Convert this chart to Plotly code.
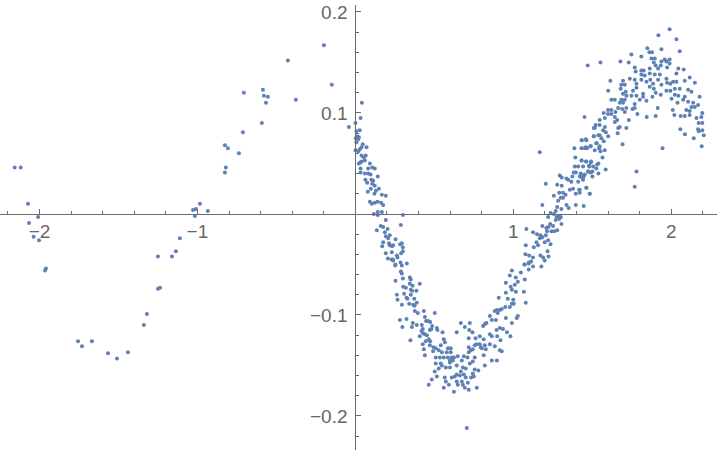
import plotly.graph_objects as go

far_left = [(-2.157,.046),(-2.119,.046),(-2.073,.010),(-2.066,-.009),(-2.009,-.003),(-2.037,-.0225),(-2.003,-.026),
(-1.965,-.056),(-1.959,-.054),(-1.756,-.126),(-1.731,-.131),(-1.668,-.126),(-1.566,-.138),(-1.509,-.143),(-1.440,-.137),
(-1.339,-.110),(-1.320,-.099),(-1.250,-.074),(-1.237,-.073),(-1.250,-.042),(-1.161,-.042),(-1.136,-.037),(-1.111,-.024),
(-1.028,.004),(-1.009,.005),(-.984,.010),(-1.016,-.002),(-.934,.003),(-.826,.041),(-.820,.046),(-.826,.068),(-.807,.065),
(-.737,.060),(-.712,.081),(-.706,.120),(-.592,.090),(-.585,.123),(-.579,.117),(-.554,.116),(-.566,.110),(-.427,.152),
(-.377,.113),(-.199,.167),(-.149,.128),(-.041,.086)]

descent = [(.041,.110),(.033,.095),(.001,.090),(.028,.083),(.007,.082),(.012,.077),(.022,.076),(.003,.075),(.018,.074),
(.007,.071),(.047,.069),(.071,.066),(.039,.066),(.028,.064),(.001,.063),(.018,.062),(.039,.058),(.066,.058),(.054,.056),
(.039,.052),(.060,.053),(.033,.051),(.022,.050),(.092,.050),(.107,.046),(.123,.045),(.081,.045),(.033,.045),(.033,.041),
(.060,.040),(.081,.040),(.096,.039),(.142,.037),(.064,.034),(.102,.034),(.113,.033),(.075,.031),(.107,.030),(.123,.028),
(.098,.025),(.079,.022),(.149,.025),(.130,.023),(.121,.020),(.168,.019),(.193,.018),(.092,.012),(.104,.010),(.140,.012),
(.163,.011),(.176,.009),(.123,.011),(.117,.000),(.142,.002),(.168,.002),(.142,-.001),(.301,-.001),(.193,-.006),(.288,-.011),
(.161,-.012),(.176,-.013),(.136,-.016),(.204,-.015),(.187,-.018),(.218,-.021),(.193,-.022),(.208,-.024),(.255,-.025),
(.176,-.028),(.213,-.029),(.170,-.032),(.294,-.029),(.284,-.030),(.218,-.031),(.239,-.031),(.233,-.032),(.301,-.033),
(.301,-.037),(.231,-.038),(.193,-.039),(.290,-.039),(.263,-.041),(.206,-.044),(.229,-.045),(.239,-.045),(.267,-.043)]

trough = [(.239,-.046),(.254,-.050),(.252,-.051),(.286,-.048),(.294,-.051),(.326,-.049),(.288,-.057),(.294,-.059),(.254,-.066),
(.301,-.064),(.345,-.063),(.351,-.065),(.408,-.069),(.345,-.069),(.362,-.071),(.303,-.072),(.320,-.073),(.351,-.075),
(.360,-.076),(.387,-.076),(.263,-.080),(.309,-.079),(.351,-.080),(.324,-.083),(.330,-.084),(.373,-.084),(.267,-.085),
(.389,-.088),(.295,-.090),(.341,-.089),(.366,-.090),(.375,-.091),(.377,-.096),(.396,-.098),(.434,-.096),(.503,-.098),
(.440,-.102),(.448,-.106),(.282,-.105),(.324,-.104),(.364,-.108),(.461,-.106),(.474,-.107),(.389,-.110),(.358,-.112),
(.298,-.112),(.421,-.110),(.427,-.114),(.486,-.111),(.482,-.114),(.516,-.113),(.472,-.115),(.520,-.115),(.552,-.117),
(.642,-.117),(.668,-.108),(.725,-.108),(.693,-.112),(.721,-.115),(.742,-.117),(.419,-.116),(.429,-.118),(.408,-.121),
(.440,-.119),(.453,-.120),(.718,-.123),(.788,-.121),(.761,-.123),(.813,-.124),(.465,-.124),(.349,-.125),(.560,-.124),
(.446,-.126),(.474,-.126),(.567,-.127),(.427,-.129),(.472,-.130),(.541,-.130),(.495,-.132),(.509,-.133),(.434,-.134),
(.528,-.135),(.492,-.136),(.548,-.137),(.440,-.140),(.586,-.133),(.604,-.133),(.579,-.137),(.604,-.137),(.756,-.130),
(.769,-.129),(.788,-.129),(.718,-.132),(.731,-.135),(.794,-.132),(.820,-.130),(.801,-.133),(.826,-.134),(.744,-.134),
(.718,-.137),(.813,-.140),(.509,-.142),(.535,-.142),(.560,-.142),(.586,-.142),(.611,-.142),(.624,-.142),(.648,-.141),
(.687,-.141),(.710,-.142),(.756,-.142),(.599,-.145),(.618,-.145),(.509,-.148),(.541,-.148),(.599,-.147),(.674,-.145),
(.725,-.148),(.744,-.146),(.548,-.150),(.573,-.152),(.528,-.153),(.599,-.152),(.642,-.150),(.681,-.152),(.699,-.153),
(.756,-.154),(.779,-.155),(.820,-.150),(.503,-.156),(.668,-.156),(.744,-.158),(.642,-.159),(.687,-.159),(.750,-.161),
(.516,-.161),(.611,-.162),(.630,-.161),(.662,-.160),(.699,-.162),(.733,-.162),(.484,-.164),(.566,-.162),(.573,-.166),
(.642,-.166),(.674,-.166),(.712,-.167),(.465,-.169),(.592,-.169),(.649,-.169),(.681,-.169),(.560,-.172),(.693,-.172),
(.718,-.174),(.769,-.172),(.624,-.176),(.706,-.212)]

rising_low = [(.809,-.111),(.820,-.109),(.830,-.108),(.852,-.101),(.864,-.105),(.890,-.105),(.908,-.083),(.883,-.096),
(.896,-.095),(.915,-.095),(.902,-.098),(.927,-.094),(.953,-.103),(.991,-.108),(.949,-.092),(.978,-.092),(.991,-.089),
(1.003,-.089),(.965,-.084),(1.000,-.085),(1.029,-.101),(1.022,-.103),(1.079,-.088),(1.067,-.077),(.991,-.075),(1.016,-.077),
(.953,-.078),(.953,-.068),(.984,-.072),(1.010,-.070),(1.029,-.067),(1.016,-.063),(.991,-.056),(.978,-.061),(1.048,-.058),
(1.073,-.065),(1.073,-.050),(1.098,-.048),(1.098,-.055),(.894,-.115),(.915,-.113),(.935,-.114),(.960,-.117),(.982,-.121),
(.852,-.119),(.864,-.121),(.898,-.121),(.919,-.125),(.852,-.129),(.883,-.131),(.915,-.135),(.927,-.136),(.864,-.145),(.896,-.145)]

rising_mid = [(1.168,.061),(1.083,-.015),(1.079,-.031),(1.077,-.040),(1.070,-.050),(1.100,-.041),(1.125,-.043),(1.113,-.047),
(1.098,-.049),(1.125,-.052),(1.178,-.052),(1.172,-.041),(1.189,-.043),(1.223,-.042),(1.199,-.046),(1.130,-.033),(1.157,-.031),
(1.147,-.028),(1.125,-.018),(1.150,-.020),(1.172,-.021),(1.184,-.023),(1.168,-.024),(1.206,-.021),(1.221,-.026),(1.199,-.028),
(1.236,-.030),(1.217,-.037),(1.184,-.012),(1.209,-.014),(1.223,-.013),(1.234,-.010),(1.252,-.012),(1.214,-.017),(1.242,-.017),
(1.259,-.017),(1.305,-.010),(1.278,-.016),(1.269,-.006),(1.291,-.005),(1.301,-.003),(1.274,-.003),(1.291,-.002),(1.236,.001),
(1.257,.000),(1.221,-.003),(1.269,.003),(1.278,.007),(1.305,.005),(1.184,.009),(1.337,.009),(1.351,.006),(1.396,.009),
(1.446,.008),(1.284,.013),(1.301,.016),(1.315,.016),(1.257,.018),(1.291,.021),(1.315,.021),(1.331,.019),(1.358,.024),
(1.379,.025),(1.396,.020),(1.417,.024),(1.421,.021),(1.463,.026),(1.484,.020),(1.206,.030),(1.278,.029),(1.307,.028),
(1.337,.035),(1.348,.034),(1.294,.038),(1.307,.036),(1.368,.032),(1.383,.041),(1.374,.037),(1.396,.041),(1.411,.032),
(1.428,.039),(1.442,.034),(1.446,.037),(1.474,.042),(1.489,.041),(1.501,.037),(1.539,.040),(1.390,.047),(1.411,.047),
(1.433,.053),(1.460,.052),(1.493,.052),(1.481,.047),(1.506,.047),(1.539,.050),(1.393,.056),(1.387,.065),(1.433,.073),
(1.460,.074),(1.491,.067),(1.453,.065),(1.467,.065),(1.526,.070),(1.543,.065),(1.510,.077),(1.539,.078),(1.510,.085)]

crest = [(1.990,.183),(1.919,.177),(2.033,.173),(1.849,.164),(1.938,.163),(1.862,.160),(1.879,.160),(2.054,.161),(1.748,.158),
(1.811,.156),(1.678,.151),(1.552,.150),(1.471,.147),(1.731,.150),(1.875,.154),(1.896,.154),(1.890,.150),(1.938,.151),
(1.959,.153),(1.990,.153),(1.970,.151),(1.769,.145),(1.775,.141),(1.811,.142),(1.826,.142),(1.864,.144),(1.902,.147),
(1.917,.144),(1.934,.147),(1.990,.149),(1.974,.145),(2.045,.144),(2.079,.143),(1.811,.138),(1.832,.137),(1.864,.139),
(1.896,.138),(1.928,.138),(2.033,.139),(2.117,.135),(2.150,.130),(2.086,.132),(1.615,.132),(1.695,.132),(1.738,.134),
(1.769,.133),(1.780,.129),(1.811,.133),(1.843,.131),(1.868,.133),(1.885,.129),(1.917,.133),(1.938,.128),(1.970,.134),
(1.974,.130),(1.995,.129),(2.012,.131),(2.033,.131),(1.684,.128),(1.680,.124),(1.706,.128),(1.780,.125),(1.601,.122),
(1.712,.121),(1.758,.122),(1.822,.119),(1.864,.126),(1.890,.124),(1.902,.120),(1.934,.118),(1.970,.122),(1.995,.122),
(2.023,.124),(2.054,.124),(2.107,.123),(2.128,.121),(1.695,.119),(1.716,.117),(1.748,.117),(1.780,.117),(1.822,.116),
(1.801,.113),(1.881,.116),(2.023,.118),(2.045,.117),(2.086,.116),(2.180,.116),(1.621,.113),(1.643,.113),(1.684,.113),
(1.706,.113),(1.843,.112),(2.002,.114),(2.040,.110),(2.076,.113),(2.107,.111),(2.139,.110),(2.170,.108),(1.674,.110),
(1.695,.110),(1.769,.109),(2.149,.106),(2.128,.106),(1.664,.105),(1.690,.104),(1.716,.105),(1.769,.105),(1.915,.105),
(2.010,.103),(2.096,.103),(2.117,.102),(1.573,.100),(1.600,.103),(1.621,.103),(1.647,.101),(1.706,.101),(1.755,.104),
(1.786,.099),(1.600,.099),(1.621,.099),(1.902,.097),(1.845,.096),(2.020,.098),(2.060,.097),(2.086,.097),(2.117,.098),
(1.451,.096),(1.547,.093),(1.580,.095),(1.643,.096),(1.658,.093),(1.732,.093),(2.160,.095),(2.197,.100),(2.191,.096),
(2.174,.090),(2.197,.090),(1.522,.088),(1.547,.088),(1.580,.086),(1.643,.091),(1.674,.086),(1.716,.085),(1.516,.085),
(1.569,.083),(1.664,.085),(2.058,.084),(2.170,.084),(2.197,.083),(2.175,.082),(1.510,.077),(1.547,.078),(1.586,.081),
(1.601,.077),(1.661,.080),(2.087,.079),(2.206,.078),(2.143,.075),(1.558,.075),(1.434,.073),(1.463,.073),(1.573,.072),
(1.692,.069),(1.528,.070),(1.547,.067),(2.193,.067),(1.945,.065),(1.432,.065),(1.459,.066),(1.488,.067),(1.516,.063),
(1.552,.062),(1.579,.063),(1.565,.056),(1.432,.053),(1.463,.052),(1.491,.051),(1.531,.049),(1.480,.048),(1.442,.047),
(1.585,.044),(1.526,.045),(1.780,.042),(1.501,.042),(1.474,.042),(1.427,.040),(1.453,.039),(1.438,.035),(1.421,.037),
(1.769,.027),(1.463,.026),(1.484,.020),(1.421,.024)]

groups = [far_left, descent, trough, rising_low, rising_mid, crest]
x_values = [p[0] for g in groups for p in g]
y_values = [p[1] for g in groups for p in g]

x_range = [-2.25, 2.29]
y_range = [-.2337, .2069]
x_ticks = [-2, -1, 1, 2]
y_ticks = [-.2, -.1, .1, .2]
x_tick_labels = ["\u22122", "\u22121", "1", "2"]
y_tick_labels = ["\u22120.2", "\u22120.1", "0.1", "0.2"]
grey = "#6b6b6b"
font = dict(family="Liberation Sans, Arial, sans-serif", size=19, color="#666666")

fig = go.Figure(go.Scatter(x=x_values, y=y_values, mode="markers", cliponaxis=False,
                           marker=dict(size=4, color="#5E81B5", line=dict(width=0))))
fig.update_layout(width=720, height=452, paper_bgcolor="white", plot_bgcolor="white",
                  margin=dict(l=0, r=3, t=5, b=2), showlegend=False, autosize=False)
fig.update_xaxes(range=x_range, anchor="free",
                 position=(0 - y_range[0]) / (y_range[1] - y_range[0]),
                 showgrid=False, zeroline=False, showline=True, linecolor=grey, linewidth=1,
                 tickmode="array", tickvals=x_ticks, ticktext=x_tick_labels,
                 ticks="inside", ticklen=5, tickcolor=grey, tickwidth=1, tickfont=font,
                 minor=dict(tickmode="array", ticks="inside", ticklen=3, tickcolor=grey, tickwidth=1,
                            tickvals=[-2.2, -1.8, -1.6, -1.4, -1.2, -.8, -.6, -.4, -.2, .2, .4, .6, .8,
                                      1.2, 1.4, 1.6, 1.8, 2.2]))
fig.update_yaxes(range=y_range, anchor="free",
                 position=(0 - x_range[0]) / (x_range[1] - x_range[0]),
                 showgrid=False, zeroline=False, showline=True, linecolor=grey, linewidth=1,
                 tickmode="array", tickvals=y_ticks, ticktext=y_tick_labels,
                 ticks="inside", ticklen=5, tickcolor=grey, tickwidth=1, tickfont=font,
                 ticklabelstandoff=4,
                 minor=dict(tickmode="array", ticks="inside", ticklen=3, tickcolor=grey, tickwidth=1,
                            tickvals=[-.22, -.18, -.16, -.14, -.12, -.08, -.06, -.04, -.02, .02, .04, .06, .08,
                                      .12, .14, .16, .18]))
fig.write_html("out.html", config=dict(displayModeBar=False),
               post_script="document.body.style.margin='0';document.documentElement.style.overflow='hidden';")
